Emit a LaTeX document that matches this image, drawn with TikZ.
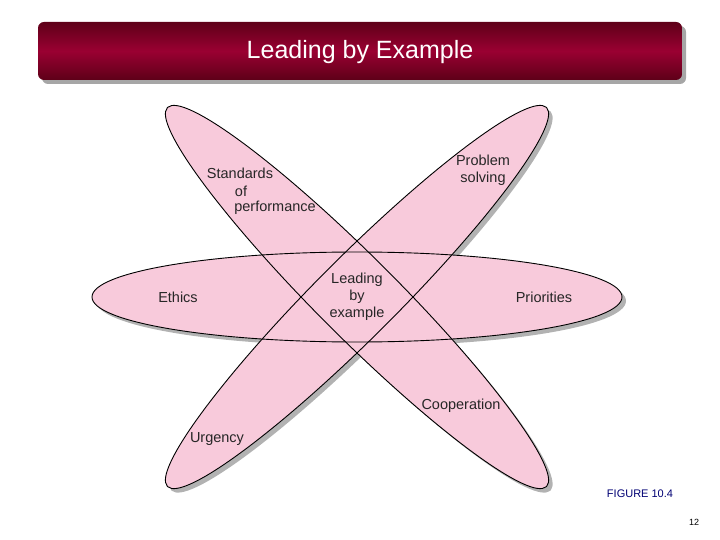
\documentclass[tikz,border=0pt]{standalone}
\usepackage{fontspec}
\setmainfont{Liberation Sans}
\definecolor{petalpink}{HTML}{F8CADB}
\definecolor{barmid}{HTML}{9A0032}
\definecolor{baredge}{HTML}{5E0018}
\begin{document}
\begin{tikzpicture}[x=1pt,y=-1pt,
  lbl/.style={font=\fontsize{14.5}{16}\selectfont, text=black!85, align=center, inner sep=0pt},
  petal/.style={fill=petalpink, draw=none},
  petalline/.style={draw=black, line width=0.9pt},
  petalshadow/.style={fill=black!30}]
\useasboundingbox (0,0) rectangle (720,540);
% title bar
\fill[black!35, rounded corners=6] (42,26) rectangle (686,84);
\shade[top color=baredge, bottom color=baredge, middle color=barmid, rounded corners=6] (38,22) rectangle (682,80);
\node (title) at (360,52) [text=white, font=\fontsize{25}{28}\selectfont] {Leading by Example};
% shadows
\fill[petalshadow] (361,301) ellipse [x radius=265, y radius=45];
\fill[petalshadow, rotate around={-45:(361,301)}] (361,301) ellipse [x radius=268, y radius=40];
\fill[petalshadow, rotate around={45:(361,301)}] (361,301) ellipse [x radius=268, y radius=40];
% fills
\fill[petal] (357,297) ellipse [x radius=265, y radius=45];
\fill[petal, rotate around={-45:(357,297)}] (357,297) ellipse [x radius=268, y radius=40];
\fill[petal, rotate around={45:(357,297)}] (357,297) ellipse [x radius=268, y radius=40];
% outlines
\draw[petalline] (357,297) ellipse [x radius=265, y radius=45];
\draw[petalline, rotate around={-45:(357,297)}] (357,297) ellipse [x radius=268, y radius=40];
\draw[petalline, rotate around={45:(357,297)}] (357,297) ellipse [x radius=268, y radius=40];
% labels
\node[lbl] (s1) at (240,173) {Standards};
\node[lbl] (s2) at (241,191) {of};
\node[lbl] (s3) at (275,208) {performance};
\node[lbl] (ps) at (483,170) {Problem\\[1pt]solving};
\node[lbl] (lbe) at (357,297) {Leading\\[1pt]by\\[1pt]example};
\node[lbl] (eth) at (178,297) {Ethics};
\node[lbl] (pri) at (544,297) {Priorities};
\node[lbl] (coop) at (461,406) {Cooperation};
\node[lbl] (urg) at (217,439) {Urgency};
\node (fig) at (640,494) [text=blue!45!black, font=\fontsize{11}{13}\selectfont] {FIGURE 10.4};
\node (pg) at (694,522) [font=\fontsize{9}{11}\selectfont] {12};
\end{tikzpicture}
\end{document}
